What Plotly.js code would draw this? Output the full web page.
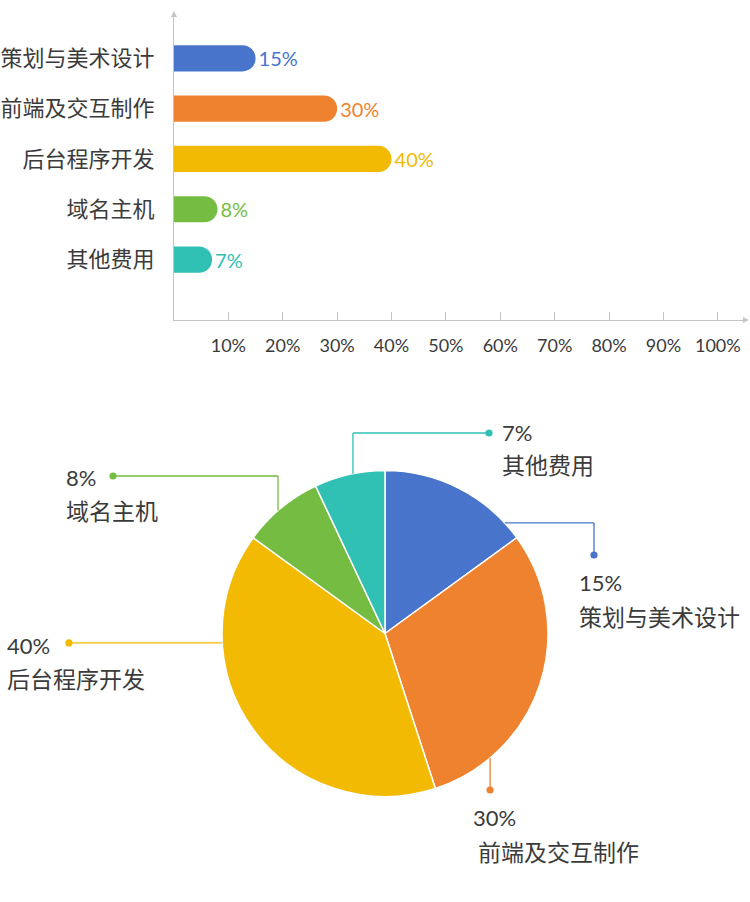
<!DOCTYPE html>
<html>
<head>
<meta charset="utf-8">
<script src="https://cdn.plot.ly/plotly-3.0.1.min.js"></script>
<style>
  html, body { margin: 0; padding: 0; background: #fff; }
  #chart { width: 750px; height: 902px; }
</style>
</head>
<body>
<div id="chart"></div>
<script>
//chart data
const categories = ['策划与美术设计', '前端及交互制作', '后台程序开发', '域名主机', '其他费用']
const shares = [15, 30, 40, 8, 7]
const colors = ['#4874CB', '#EE822F', '#F2BA02', '#75BD42', '#30C0B4']
const xTicks = [10, 20, 30, 40, 50, 60, 70, 80, 90, 100]

//chart global vars
const W = 750
const H = 902
const font = "Lato, 'Noto Sans CJK SC', sans-serif"
const textColor = '#3b3b3b'
const axisColor = '#c4c4c4'

//margins are zero so paper = page pixels
const px = (x) => x / W
const py = (y) => 1 - y / H

//pie box in pixels
const pieCx = 385
const pieCy = 633.5
const pieR = 163

//where each leader leaves its slice (fraction through the slice) and how it bends
const leaderLayout = [
  { f: 0.876, legs: [['h', 594], ['v', 555]], tx: 577, pctY: 582, nameY: 617 },
  { f: 0.795, legs: [['v', 790]], tx: 471, nameDx: 5, pctY: 817, nameY: 852 },
  { f: 0.727, legs: [['h', 69]], tx: 5, pctY: 645, nameY: 679 },
  { f: 0.451, legs: [['v', 476], ['h', 113]], tx: 64, pctY: 477, nameY: 511 },
  { f: 0.55, legs: [['v', 433], ['h', 489]], tx: 500, pctY: 433, nameY: 465 },
]

function pieLeaders() {
  let shapes = []
  let annotations = []
  const total = shares.reduce((a, b) => a + b, 0)
  let start = 0
  shares.forEach((v, i) => {
    const cfg = leaderLayout[i]
    const ang = ((start + v * cfg.f) / total) * 2 * Math.PI
    start += v
    //point on the rim, clockwise from 12 o'clock
    let x = pieCx + pieR * Math.sin(ang)
    let y = pieCy - pieR * Math.cos(ang)
    cfg.legs.forEach(([dir, end]) => {
      let nx = dir == 'h' ? end : x
      let ny = dir == 'v' ? end : y
      shapes.push({
        type: 'line', xref: 'paper', yref: 'paper',
        x0: px(x), y0: py(y), x1: px(nx), y1: py(ny),
        line: { color: colors[i], width: 1.3 },
      })
      x = nx
      y = ny
    })
    const d = 3.6
    shapes.push({
      type: 'circle', xref: 'paper', yref: 'paper',
      x0: px(x - d), x1: px(x + d), y0: py(y + d), y1: py(y - d),
      fillcolor: colors[i], line: { width: 0 },
    })
    annotations.push({
      xref: 'paper', yref: 'paper', x: px(cfg.tx), y: py(cfg.pctY),
      xanchor: 'left', yanchor: 'middle', showarrow: false,
      text: shares[i] + '%', font: { size: 22, color: textColor },
    })
    annotations.push({
      xref: 'paper', yref: 'paper', x: px(cfg.tx + (cfg.nameDx || 0)), y: py(cfg.nameY),
      xanchor: 'left', yanchor: 'middle', showarrow: false,
      text: categories[i], font: { size: 23, color: textColor },
    })
  })
  return { shapes, annotations }
}

const barTrace = {
  type: 'bar',
  orientation: 'h',
  x: shares,
  y: categories,
  width: 0.52,
  marker: { color: colors, cornerradius: '50%' },
  text: shares.map((v) => v + '%'),
  textposition: 'outside',
  textfont: { color: colors, size: 20 },
  cliponaxis: false,
  hoverinfo: 'skip',
}

const pieTrace = {
  type: 'pie',
  values: shares,
  labels: categories,
  sort: false,
  direction: 'clockwise',
  marker: { colors: colors, line: { color: '#ffffff', width: 1.5 } },
  textinfo: 'none',
  hoverinfo: 'skip',
  showlegend: false,
  domain: { x: [px(pieCx - pieR), px(pieCx + pieR)], y: [py(pieCy + pieR), py(pieCy - pieR)] },
}

const leaders = pieLeaders()

//axis arrow heads
const arrows = [
  {
    xref: 'paper', yref: 'paper', x: px(174), y: py(11), ax: 0, ay: 8,
    text: '', showarrow: true, arrowhead: 2, arrowsize: 1, arrowwidth: 1.2, arrowcolor: axisColor,
  },
  {
    xref: 'paper', yref: 'paper', x: px(749), y: py(320), ax: -8, ay: 0,
    text: '', showarrow: true, arrowhead: 2, arrowsize: 1, arrowwidth: 1.2, arrowcolor: axisColor,
  },
]

const layout = {
  width: W,
  height: H,
  margin: { l: 0, r: 0, t: 0, b: 0 },
  paper_bgcolor: '#ffffff',
  plot_bgcolor: '#ffffff',
  showlegend: false,
  font: { family: font, color: textColor },
  xaxis: {
    domain: [px(174), px(745)],
    range: [0, 105],
    tickvals: xTicks,
    ticktext: xTicks.map((v) => v + '%'),
    ticks: 'inside',
    ticklen: 8,
    tickcolor: axisColor,
    tickwidth: 1,
    showline: true,
    linecolor: axisColor,
    linewidth: 1,
    showgrid: false,
    zeroline: false,
    fixedrange: true,
    ticklabelstandoff: 9,
    tickfont: { size: 18, color: textColor },
  },
  yaxis: {
    domain: [py(320), py(14)],
    type: 'category',
    range: [5.2, -0.88],
    showline: true,
    linecolor: axisColor,
    linewidth: 1,
    ticks: '',
    showgrid: false,
    zeroline: false,
    fixedrange: true,
    ticklabelstandoff: 14,
    tickfont: { size: 22, color: textColor },
  },
  shapes: leaders.shapes,
  annotations: leaders.annotations.concat(arrows),
}

Plotly.newPlot('chart', [barTrace, pieTrace], layout, {
  displayModeBar: false,
  staticPlot: true,
})
</script>
</body>
</html>
